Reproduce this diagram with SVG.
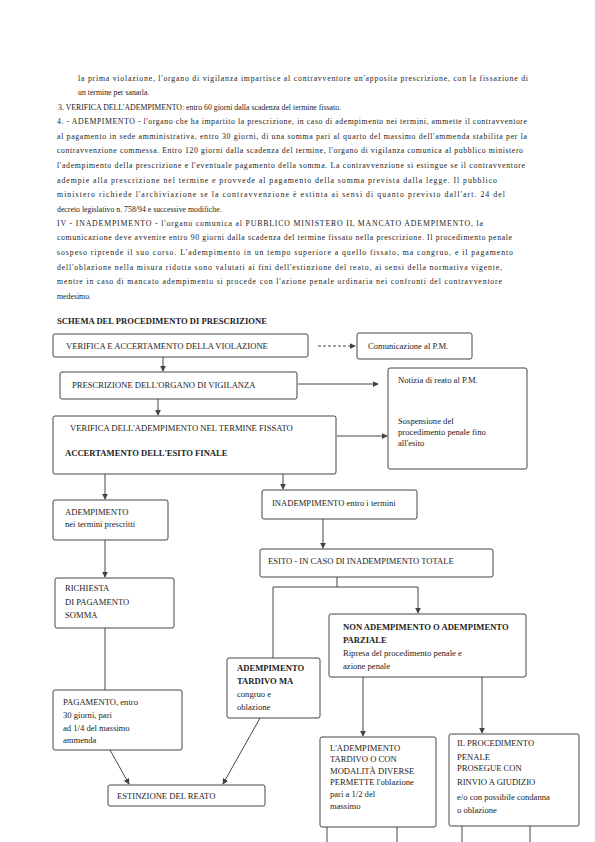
<svg xmlns="http://www.w3.org/2000/svg" width="595" height="842" viewBox="0 0 595 842">
<style>
text{font-family:"Liberation Serif","Times New Roman",serif;font-size:8.6px;fill:#222}
.p{font-size:7.8px}
.b{font-weight:bold}
.box{fill:#fff;stroke:#444;stroke-width:1}
.ln{fill:none;stroke:#444;stroke-width:1}
</style>
<defs>
<marker id="ah" viewBox="0 0 8 8" refX="7" refY="4" markerWidth="6" markerHeight="6" orient="auto"><path d="M0,0 L8,4 L0,8 z" fill="#444"/></marker>
</defs>
<rect width="595" height="842" fill="#fff"/>
<g id="paragraph">
<text class="p" x="78" y="81" textLength="450" lengthAdjust="spacing">la prima violazione, l'organo di vigilanza impartisce al contravventore un'apposita prescrizione, con la fissazione di</text>
<text class="p" x="78" y="95">un termine per sanarla.</text>
<text class="p" x="58" y="110">3.    VERIFICA DELL'ADEMPIMENTO: entro 60 giorni dalla scadenza del termine fissato.</text>
<text class="p" x="57" y="124" textLength="470" lengthAdjust="spacing">4. - ADEMPIMENTO - l'organo che ha impartito la prescrizione, in caso di adempimento nei termini, ammette il contravventore</text>
<text class="p" x="57" y="139" textLength="470" lengthAdjust="spacing">al pagamento in sede amministrativa, entro 30 giorni, di una somma pari al quarto del massimo dell'ammenda stabilita per la</text>
<text class="p" x="57" y="153" textLength="466" lengthAdjust="spacing">contravvenzione commessa. Entro 120 giorni dalla scadenza del termine, l'organo di vigilanza comunica al pubblico ministero</text>
<text class="p" x="57" y="168" textLength="468" lengthAdjust="spacing">l'adempimento della prescrizione e l'eventuale pagamento della somma. La contravvenzione si estingue se il contravventore</text>
<text class="p" x="57" y="183" textLength="440" lengthAdjust="spacing">adempie alla prescrizione nel termine e provvede al pagamento della somma prevista dalla legge. Il pubblico</text>
<text class="p" x="57" y="197" textLength="448" lengthAdjust="spacing">ministero richiede l'archiviazione se la contravvenzione è estinta ai sensi di quanto previsto dall'art. 24 del</text>
<text class="p" x="57" y="212">decreto legislativo n. 758/94 e successive modifiche.</text>
<text class="p" x="57" y="226" textLength="426" lengthAdjust="spacing">IV - INADEMPIMENTO - l'organo comunica al PUBBLICO MINISTERO IL MANCATO ADEMPIMENTO, la</text>
<text class="p" x="57" y="240" textLength="455" lengthAdjust="spacing">comunicazione deve avvenire entro 90 giorni dalla scadenza del termine fissato nella prescrizione. Il procedimento penale</text>
<text class="p" x="57" y="255" textLength="456" lengthAdjust="spacing">sospeso riprende il suo corso. L'adempimento in un tempo superiore a quello fissato, ma congruo, e il pagamento</text>
<text class="p" x="57" y="270" textLength="445" lengthAdjust="spacing">dell'oblazione nella misura ridotta sono valutati ai fini dell'estinzione del reato, ai sensi della normativa vigente,</text>
<text class="p" x="57" y="284" textLength="445" lengthAdjust="spacing">mentre in caso di mancato adempimento si procede con l'azione penale ordinaria nei confronti del contravventore</text>
<text class="p" x="57" y="299">medesimo.</text>
</g>
<text id="title" class="b" x="57" y="324">SCHEMA DEL PROCEDIMENTO DI PRESCRIZIONE</text>
<g id="connectors">
<line class="ln" x1="318" y1="346" x2="355" y2="346" stroke-dasharray="3,2" marker-end="url(#ah)"/>
<line class="ln" x1="163" y1="357" x2="163" y2="371" marker-end="url(#ah)"/>
<line class="ln" x1="298" y1="384" x2="378" y2="384" marker-end="url(#ah)"/>
<line class="ln" x1="158" y1="399" x2="158" y2="415" marker-end="url(#ah)"/>
<line class="ln" x1="337" y1="436" x2="387" y2="436" marker-end="url(#ah)"/>
<line class="ln" x1="105" y1="474" x2="105" y2="499" marker-end="url(#ah)"/>
<line class="ln" x1="283" y1="474" x2="283" y2="489" marker-end="url(#ah)"/>
<line class="ln" x1="105" y1="540" x2="105" y2="577" marker-end="url(#ah)"/>
<line class="ln" x1="323" y1="519" x2="323" y2="548" marker-end="url(#ah)"/>
<polyline class="ln" points="337,577 337,587"/>
<polyline class="ln" points="273,658 273,587 418,587"/>
<line class="ln" x1="418" y1="587" x2="418" y2="613" marker-end="url(#ah)"/>
<line class="ln" x1="105" y1="628" x2="105" y2="690"/>
<line class="ln" x1="110" y1="750" x2="129" y2="784" marker-end="url(#ah)"/>
<line class="ln" x1="260" y1="718" x2="223" y2="784" marker-end="url(#ah)"/>
<line class="ln" x1="363" y1="677" x2="363" y2="736" marker-end="url(#ah)"/>
<line class="ln" x1="482" y1="677" x2="482" y2="733" marker-end="url(#ah)"/>
<line class="ln" x1="327" y1="827" x2="327" y2="842"/>
<line class="ln" x1="397" y1="827" x2="397" y2="842"/>
<line class="ln" x1="462" y1="826" x2="462" y2="842"/>
<line class="ln" x1="530" y1="826" x2="530" y2="842"/>
</g>
<g id="n1"><rect class="box" x="53" y="334" width="255" height="23" rx="2"/>
<text x="66" y="349">VERIFICA E ACCERTAMENTO DELLA VIOLAZIONE</text></g>
<g id="n2"><rect class="box" x="357" y="333" width="115" height="26" rx="2"/>
<text x="368" y="349">Comunicazione al P.M.</text></g>
<g id="n3"><rect class="box" x="60" y="372" width="237" height="27" rx="2"/>
<text x="72" y="388">PRESCRIZIONE DELL'ORGANO DI VIGILANZA</text></g>
<g id="n4"><rect class="box" x="388" y="368" width="139" height="101" rx="2"/>
<text x="398" y="383">Notizia di reato al P.M.</text>
<text x="398" y="424">Sospensione del</text>
<text x="398" y="435">procedimento penale fino</text>
<text x="398" y="446">all'esito</text></g>
<g id="n5"><rect class="box" x="53" y="416" width="283" height="58" rx="2"/>
<text x="70" y="431">VERIFICA DELL'ADEMPIMENTO NEL TERMINE FISSATO</text>
<text class="b" x="65" y="456">ACCERTAMENTO DELL'ESITO FINALE</text></g>
<g id="n6"><rect class="box" x="53" y="500" width="115" height="40" rx="2"/>
<text x="65" y="515">ADEMPIMENTO</text>
<text x="65" y="527">nei termini prescritti</text></g>
<g id="n7"><rect class="box" x="262" y="490" width="155" height="29" rx="2"/>
<text x="272" y="506">INADEMPIMENTO entro i termini</text></g>
<g id="n8"><rect class="box" x="260" y="549" width="233" height="28" rx="2"/>
<text x="268" y="564">ESITO - IN CASO DI INADEMPIMENTO TOTALE</text></g>
<g id="n9"><rect class="box" x="55" y="578" width="119" height="50" rx="2"/>
<text x="65" y="591">RICHIESTA</text>
<text x="65" y="605">DI PAGAMENTO</text>
<text x="65" y="618">SOMMA</text></g>
<g id="n10"><rect class="box" x="329" y="614" width="197" height="63" rx="2"/>
<text class="b" x="343" y="630">NON ADEMPIMENTO O ADEMPIMENTO</text>
<text class="b" x="343" y="643">PARZIALE</text>
<text x="343" y="656">Ripresa del procedimento penale e</text>
<text x="343" y="669">azione penale</text></g>
<g id="n11"><rect class="box" x="227" y="658" width="93" height="60" rx="2"/>
<text class="b" x="237" y="671">ADEMPIMENTO</text>
<text class="b" x="237" y="684">TARDIVO MA</text>
<text x="237" y="697">congruo e</text>
<text x="237" y="710">oblazione</text></g>
<g id="n12"><rect class="box" x="53" y="690" width="129" height="60" rx="2"/>
<text x="63" y="705">PAGAMENTO, entro</text>
<text x="63" y="718">30 giorni, pari</text>
<text x="63" y="731">ad 1/4 del massimo</text>
<text x="63" y="743">ammenda</text></g>
<g id="n13"><rect class="box" x="320" y="737" width="116" height="90" rx="2"/>
<text x="330" y="751">L'ADEMPIMENTO</text>
<text x="330" y="762">TARDIVO O CON</text>
<text x="330" y="774">MODALITÀ DIVERSE</text>
<text x="330" y="785">PERMETTE l'oblazione</text>
<text x="330" y="797">pari a 1/2 del</text>
<text x="330" y="809">massimo</text></g>
<g id="n14"><rect class="box" x="449" y="734" width="130" height="92" rx="2"/>
<text x="457" y="746">IL PROCEDIMENTO</text>
<text x="457" y="760">PENALE</text>
<text x="457" y="771">PROSEGUE CON</text>
<text x="457" y="785">RINVIO A GIUDIZIO</text>
<text x="457" y="800">e/o con possibile condanna</text>
<text x="457" y="813">o oblazione</text></g>
<g id="n15"><rect class="box" x="108" y="785" width="157" height="21" rx="2"/>
<text x="117" y="799">ESTINZIONE DEL REATO</text></g>
</svg>
